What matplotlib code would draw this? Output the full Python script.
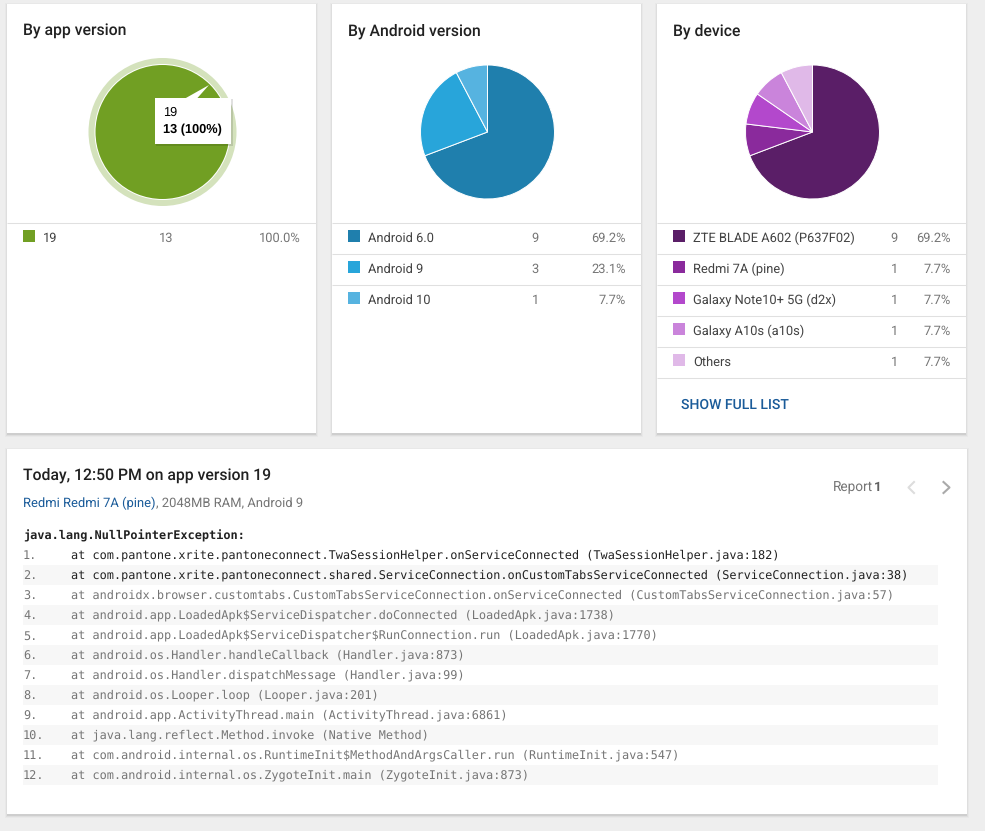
import matplotlib
matplotlib.use('Agg')
import matplotlib.pyplot as plt
from matplotlib.patches import Rectangle, Polygon

plt.rcParams['font.family'] = ['Roboto', 'DejaVu Sans']
plt.rcParams['text.hinting'] = 'no_hinting'

# data
app_labels = ['19']
app_counts = [13]
app_pcts = ['100.0%']
app_colors = ['#719f23']

android_labels = ['Android 6.0', 'Android 9', 'Android 10']
android_counts = [9, 3, 1]
android_pcts = ['69.2%', '23.1%', '7.7%']
android_colors = ['#1f7fad', '#28a5da', '#56b3e0']

device_labels = ['ZTE BLADE A602 (P637F02)', 'Redmi 7A (pine)', 'Galaxy Note10+ 5G (d2x)', 'Galaxy A10s (a10s)', 'Others']
device_counts = [9, 1, 1, 1, 1]
device_pcts = ['69.2%', '7.7%', '7.7%', '7.7%', '7.7%']
device_colors = ['#5a1e67', '#8a2a9c', '#b348cc', '#ca84db', '#e0b9e8']

stack_header = 'java.lang.NullPointerException:'
stack_lines = [
    'at com.pantone.xrite.pantoneconnect.TwaSessionHelper.onServiceConnected (TwaSessionHelper.java:182)',
    'at com.pantone.xrite.pantoneconnect.shared.ServiceConnection.onCustomTabsServiceConnected (ServiceConnection.java:38)',
    'at androidx.browser.customtabs.CustomTabsServiceConnection.onServiceConnected (CustomTabsServiceConnection.java:57)',
    'at android.app.LoadedApk$ServiceDispatcher.doConnected (LoadedApk.java:1738)',
    'at android.app.LoadedApk$ServiceDispatcher$RunConnection.run (LoadedApk.java:1770)',
    'at android.os.Handler.handleCallback (Handler.java:873)',
    'at android.os.Handler.dispatchMessage (Handler.java:99)',
    'at android.os.Looper.loop (Looper.java:201)',
    'at android.app.ActivityThread.main (ActivityThread.java:6861)',
    'at java.lang.reflect.Method.invoke (Native Method)',
    'at com.android.internal.os.RuntimeInit$MethodAndArgsCaller.run (RuntimeInit.java:547)',
    'at com.android.internal.os.ZygoteInit.main (ZygoteInit.java:873)',
]

W, H = 985, 831
fig = plt.figure(figsize=(W / 100, H / 100), dpi=100, facecolor='#eeeeee')

# whole figure in pixel coordinates, y going down
bg = fig.add_axes([0, 0, 1, 1], zorder=0)
bg.set_xlim(0, W)
bg.set_ylim(H, 0)
bg.axis('off')
top = fig.add_axes([0, 0, 1, 1], zorder=3)
top.set_xlim(0, W)
top.set_ylim(H, 0)
top.axis('off')


def card(x0, y0, x1, y1):
    for grow, alpha in [(3, 0.025), (2, 0.04), (1, 0.07)]:
        bg.add_patch(Rectangle((x0 - grow + 1, y0 - grow + 2), x1 - x0 + 2 * grow - 2, y1 - y0 + 2 * grow - 1,
                               fc='black', ec='none', alpha=alpha))
    bg.add_patch(Rectangle((x0, y0), x1 - x0, y1 - y0, fc='white', ec='none'))


def draw_pie(cx, values, colors, radius=67, ring=False):
    size = 160
    cy = 132
    ax = fig.add_axes([(cx - size / 2) / W, 1 - (cy + size / 2) / H, size / W, size / H], zorder=1)
    if ring:
        ax.pie(values, colors=[colors[0]], radius=74, startangle=90, counterclock=False,
               wedgeprops={'width': 6, 'alpha': 0.3, 'linewidth': 0})
    ax.pie(values, colors=colors, radius=radius, startangle=90, counterclock=False,
           wedgeprops={'edgecolor': 'white', 'linewidth': 0.7 if len(values) > 1 else 0})
    ax.set_xlim(-size / 2, size / 2)
    ax.set_ylim(-size / 2, size / 2)
    ax.set_aspect('equal')


def panel(x0, title, labels, counts, pcts, colors, lines, count_x, ring=False):
    x1 = x0 + 309
    card(x0, 4, x1, 433)
    bg.text(x0 + 16, 35.5, title, fontsize=11.3, fontweight='medium', color='#212121', va='baseline')
    draw_pie(x0 + 155.5, counts, colors, ring=ring)
    for i in range(lines):
        y = 222.5 + 31 * i
        bg.plot([x0, x1], [y, y], color='#e0e0e0', lw=0.75, solid_capstyle='butt')
    for i, label in enumerate(labels):
        y = 242 + 31 * i
        bg.add_patch(Rectangle((x0 + 16, y - 12), 12, 12, fc=colors[i], ec='none'))
        bg.text(x0 + 36, y, label, fontsize=9.3, color='#424242')
        bg.text(x0 + count_x, y, str(counts[i]), fontsize=9.3, color='#757575', ha='right')
        bg.text(x0 + 293.5, y, pcts[i], fontsize=9.3, color='#757575', ha='right')


panel(7, 'By app version', app_labels, app_counts, app_pcts, app_colors, 1, 166, ring=True)
panel(332, 'By Android version', android_labels, android_counts, android_pcts, android_colors, 3, 207)
panel(657, 'By device', device_labels, device_counts, device_pcts, device_colors, 6, 241)
bg.text(681, 409, 'SHOW FULL LIST', fontsize=10.1, fontweight='medium', color='#1a5b99')

# tooltip over the first pie
top.add_patch(Rectangle((156, 99), 77, 47, fc='black', ec='none', alpha=0.12))
top.add_patch(Polygon([(185, 98.5), (197, 98.5), (209, 85)], fc='white', ec='none'))
top.add_patch(Rectangle((155, 98), 76, 46, fc='white', ec='none'))
top.text(163, 116, app_labels[0], family=['Liberation Sans'], fontsize=9.2, color='black')
top.text(163, 133, f'{app_counts[0]} (100%)', family=['Liberation Sans'], fontsize=9.2, fontweight='bold',
         color='black')

# crash report card
card(7, 449, 967, 814)
bg.text(23, 480, 'Today, 12:50 PM on app version 19', fontsize=11.3, fontweight='medium', color='#212121')
bg.text(23, 507.5, 'Redmi Redmi 7A (pine)', fontsize=9.35, color='#1a5b99')
bg.text(155.5, 507.5, ', 2048MB RAM, Android 9', fontsize=9.35, color='#757575')
bg.text(872.5, 491, 'Report', fontsize=9.8, color='#757575', ha='right')
bg.text(882, 491, '1', fontsize=9.5, fontweight='bold', color='#616161', ha='right')
bg.plot([914, 908.5, 914], [482, 487.5, 493], color='#dddddd', lw=1.5)
bg.plot([943.5, 949.5, 943.5], [482, 487.5, 493], color='#aaaaaa', lw=1.5)

mono = ['DejaVu Sans Mono']
bg.text(23, 539, stack_header, family=mono, fontsize=8.55, fontweight='bold', color='#212121')
for i, line in enumerate(stack_lines):
    y = 555 + 20 * i
    if i % 2 == 1:
        bg.add_patch(Rectangle((23, y - 10), 915, 20, fc='#f7f7f7', ec='none'))
    color = '#212121' if i < 2 else '#757575'
    bg.text(23, y + 4.4, f'{i + 1}.', family=mono, fontsize=8.55, color='#757575')
    bg.text(71, y + 3.4, line, family=mono, fontsize=8.55, color=color, parse_math=False)

fig.savefig('out.png', dpi=100, facecolor=fig.get_facecolor())
plt.close(fig)
